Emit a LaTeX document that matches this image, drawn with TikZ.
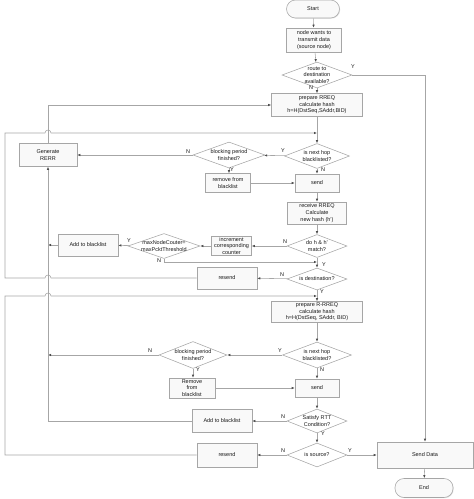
\documentclass[tikz,border=0pt]{standalone}
\usepackage{fontspec}
\setmainfont{Liberation Sans}
\usetikzlibrary{arrows.meta,shapes.geometric,shadows}
\begin{document}
\begin{tikzpicture}[x=1pt,y=1pt,
  every node/.style={font=\fontsize{5.5}{6.6}\selectfont, text=black!90},
  box/.style={draw=gray!70, fill=gray!5, line width=0.55pt, inner sep=0pt, align=center,
    drop shadow={shadow xshift=0.7pt, shadow yshift=-0.7pt, fill=gray!40, opacity=0.6}},
  term/.style={box, rounded corners=9pt},
  dia/.style={diamond, draw=gray!70, fill=white, line width=0.55pt, inner sep=0pt},
  dtext/.style={align=center, inner sep=0pt},
  line/.style={draw=gray!70, line width=0.55pt},
  arr/.style={line, -{Latex[length=3pt,width=2.4pt,color=black!70]}},
  yn/.style={font=\fontsize{5.5}{6}\selectfont, inner sep=0.5pt}]
\useasboundingbox (0,0) rectangle (474,-499);

% ---------- upper part ----------
\node[term, minimum width=53, minimum height=18] (start) at (313,-9) {Start};
\node[box, minimum width=55, minimum height=24] (src) at (314,-40) {node wants to\\transmit data\\(source node)};
\node[dia, minimum width=70, minimum height=26] (route) at (317,-75) {};
\node[dtext] (routet) at (route) {route to\\destination\\available?};
\node[box, minimum width=91, minimum height=23] (rreq) at (317,-105) {prepare RREQ\\calculate hash\\h=H(DstSeq,SAddr,BID)};
\node[box, minimum width=58, minimum height=23] (rerr) at (48,-155) {Generate\\RERR};
\node[dia, minimum width=65, minimum height=25] (nh1) at (317,-156) {};
\node[dtext] (nh1t) at (nh1) {is next hop\\blacklisted?};
\node[dia, minimum width=72, minimum height=26] (bp1) at (229,-155) {};
\node[dtext] (bp1t) at (bp1) {blocking period\\finished?};
\node[box, minimum width=45, minimum height=19] (rm1) at (228,-183) {remove from\\blacklist};
\node[box, minimum width=44, minimum height=18] (send1) at (317,-183) {send};
\node[box, minimum width=59, minimum height=22] (recv) at (317,-213) {receive RREQ\\Calculate\\new hash (h')};
\node[dia, minimum width=60, minimum height=23] (hm) at (317,-246) {};
\node[dtext] (hmt) at (hm) {do h \& h'\\match?};
\node[box, minimum width=40, minimum height=19] (inc) at (231.5,-246) {increment\\corresponding\\counter};
\node[dia, minimum width=72, minimum height=25] (mx) at (164,-246) {};
\node[dtext] (mxt) at (mx) {maxNodeCouter=\\maxPcktThreshold};
\node[box, minimum width=60, minimum height=22] (ab1) at (88,-245) {Add to blacklist};
\node[dia, minimum width=60, minimum height=22] (dest) at (317,-279) {};
\node[dtext] (destt) at (dest) {is destination?};
\node[box, minimum width=60, minimum height=22] (rs1) at (227,-278) {resend};

% ---------- lower part ----------
\node[box, minimum width=91, minimum height=21] (rrreq) at (317,-312) {prepare R-RREQ\\calculate hash\\h=H(DstSeq, SAddr, BID)};
\node[dia, minimum width=69, minimum height=26] (nh2) at (317,-355) {};
\node[dtext] (nh2t) at (nh2) {is next hop\\blacklisted?};
\node[dia, minimum width=68, minimum height=27] (bp2) at (193,-355) {};
\node[dtext] (bp2t) at (bp2) {blocking period\\finished?};
\node[box, minimum width=46, minimum height=20] (rm2) at (192,-388) {Remove\\from\\blacklist};
\node[box, minimum width=44, minimum height=18] (send2) at (317,-388) {send};
\node[dia, minimum width=60, minimum height=24] (rtt) at (317,-421) {};
\node[dtext] (rttt) at (rtt) {Satisfy RTT\\Condition?};
\node[box, minimum width=60, minimum height=23] (ab2) at (222,-421) {Add to blacklist};
\node[dia, minimum width=60, minimum height=24] (iss) at (317,-455) {};
\node[dtext] (isst) at (iss) {is source?};
\node[box, minimum width=60, minimum height=24] (rs2) at (227,-455) {resend};
\node[box, minimum width=96, minimum height=26] (sd) at (425,-455) {Send Data};
\node[term, minimum width=58, minimum height=19] (end) at (424,-488) {End};

% ---------- helper coordinates ----------
\coordinate (j133) at (317,-133);
\coordinate (j262) at (317,-262);
\coordinate (j296) at (317,-296);
\coordinate (v245) at (48,-245);
\coordinate (v355) at (48,-355);

% ---------- connectors ----------
\draw[arr] (start) -- (src);
\draw[arr] (src) -- (route);
\draw[arr] (route) -- (rreq);
\draw[arr] (route.east) -- (425,-75) -- (sd.north);
\draw[arr] (rreq) -- (nh1);
\draw[arr] (nh1) -- (bp1);
\draw[arr] (bp1) -- (rerr);
\draw[arr] (bp1.south) -- (bp1.south |- rm1.north);
\draw[arr] (rm1) -- (send1);
\draw[arr] (nh1) -- (send1);
\draw[arr] (send1) -- (recv);
\draw[arr] (recv) -- (hm);
\draw[arr] (hm) -- (inc);
\draw[arr] (inc) -- (mx);
\draw[arr] (mx) -- (ab1);
\draw[arr] (ab1) -- (v245);
\draw[arr] (mx.south) -- (164,-262) -- (j262);
\draw[arr] (hm) -- (dest);
\draw[arr] (dest) -- (rs1);
\draw[arr] (dest) -- (rrreq);
\draw[arr] (rerr.north) -- (48,-105) -- (rreq.west);
\draw[arr] (rs1.west) -- (51,-278) arc (0:180:3) -- (5,-278) -- (5,-133) -- (45,-133) arc (180:0:3) -- (j133);

\draw[arr] (rrreq) -- (nh2);
\draw[arr] (nh2) -- (bp2);
\draw[arr] (bp2) -- (v355);
\draw[arr] (bp2.south) -- (bp2.south |- rm2.north);
\draw[arr] (rm2) -- (send2);
\draw[arr] (nh2) -- (send2);
\draw[arr] (send2) -- (rtt);
\draw[arr] (rtt) -- (ab2);
\draw[arr] (ab2.west) -- (48,-421) -- (rerr.south);
\draw[arr] (rtt) -- (iss);
\draw[arr] (iss) -- (rs2);
\draw[arr] (iss) -- (sd);
\draw[arr] (sd) -- (end);
\draw[arr] (rs2.west) -- (5,-455) -- (5,-296) -- (45,-296) arc (180:0:3) -- (j296);

% ---------- Y / N labels ----------
\node[yn] (l1) at (353,-67) {Y};
\node[yn] (l2) at (311,-88) {N};
\node[yn] (l3) at (283,-151) {Y};
\node[yn] (l4) at (188,-152) {N};
\node[yn] (l5) at (232,-170) {Y};
\node[yn] (l6) at (323,-170) {N};
\node[yn] (l7) at (285,-242) {N};
\node[yn] (l8) at (129,-241) {Y};
\node[yn] (l9) at (159,-261) {N};
\node[yn] (l10) at (324,-265) {Y};
\node[yn] (l11) at (282,-275) {N};
\node[yn] (l12) at (322,-292) {Y};
\node[yn] (l13) at (280,-351) {Y};
\node[yn] (l14) at (150,-351) {N};
\node[yn] (l15) at (198,-370) {Y};
\node[yn] (l16) at (322,-370) {N};
\node[yn] (l17) at (283,-417) {N};
\node[yn] (l18) at (323,-434) {Y};
\node[yn] (l19) at (283,-451) {N};
\node[yn] (l20) at (350,-451) {Y};
\end{tikzpicture}
\end{document}
